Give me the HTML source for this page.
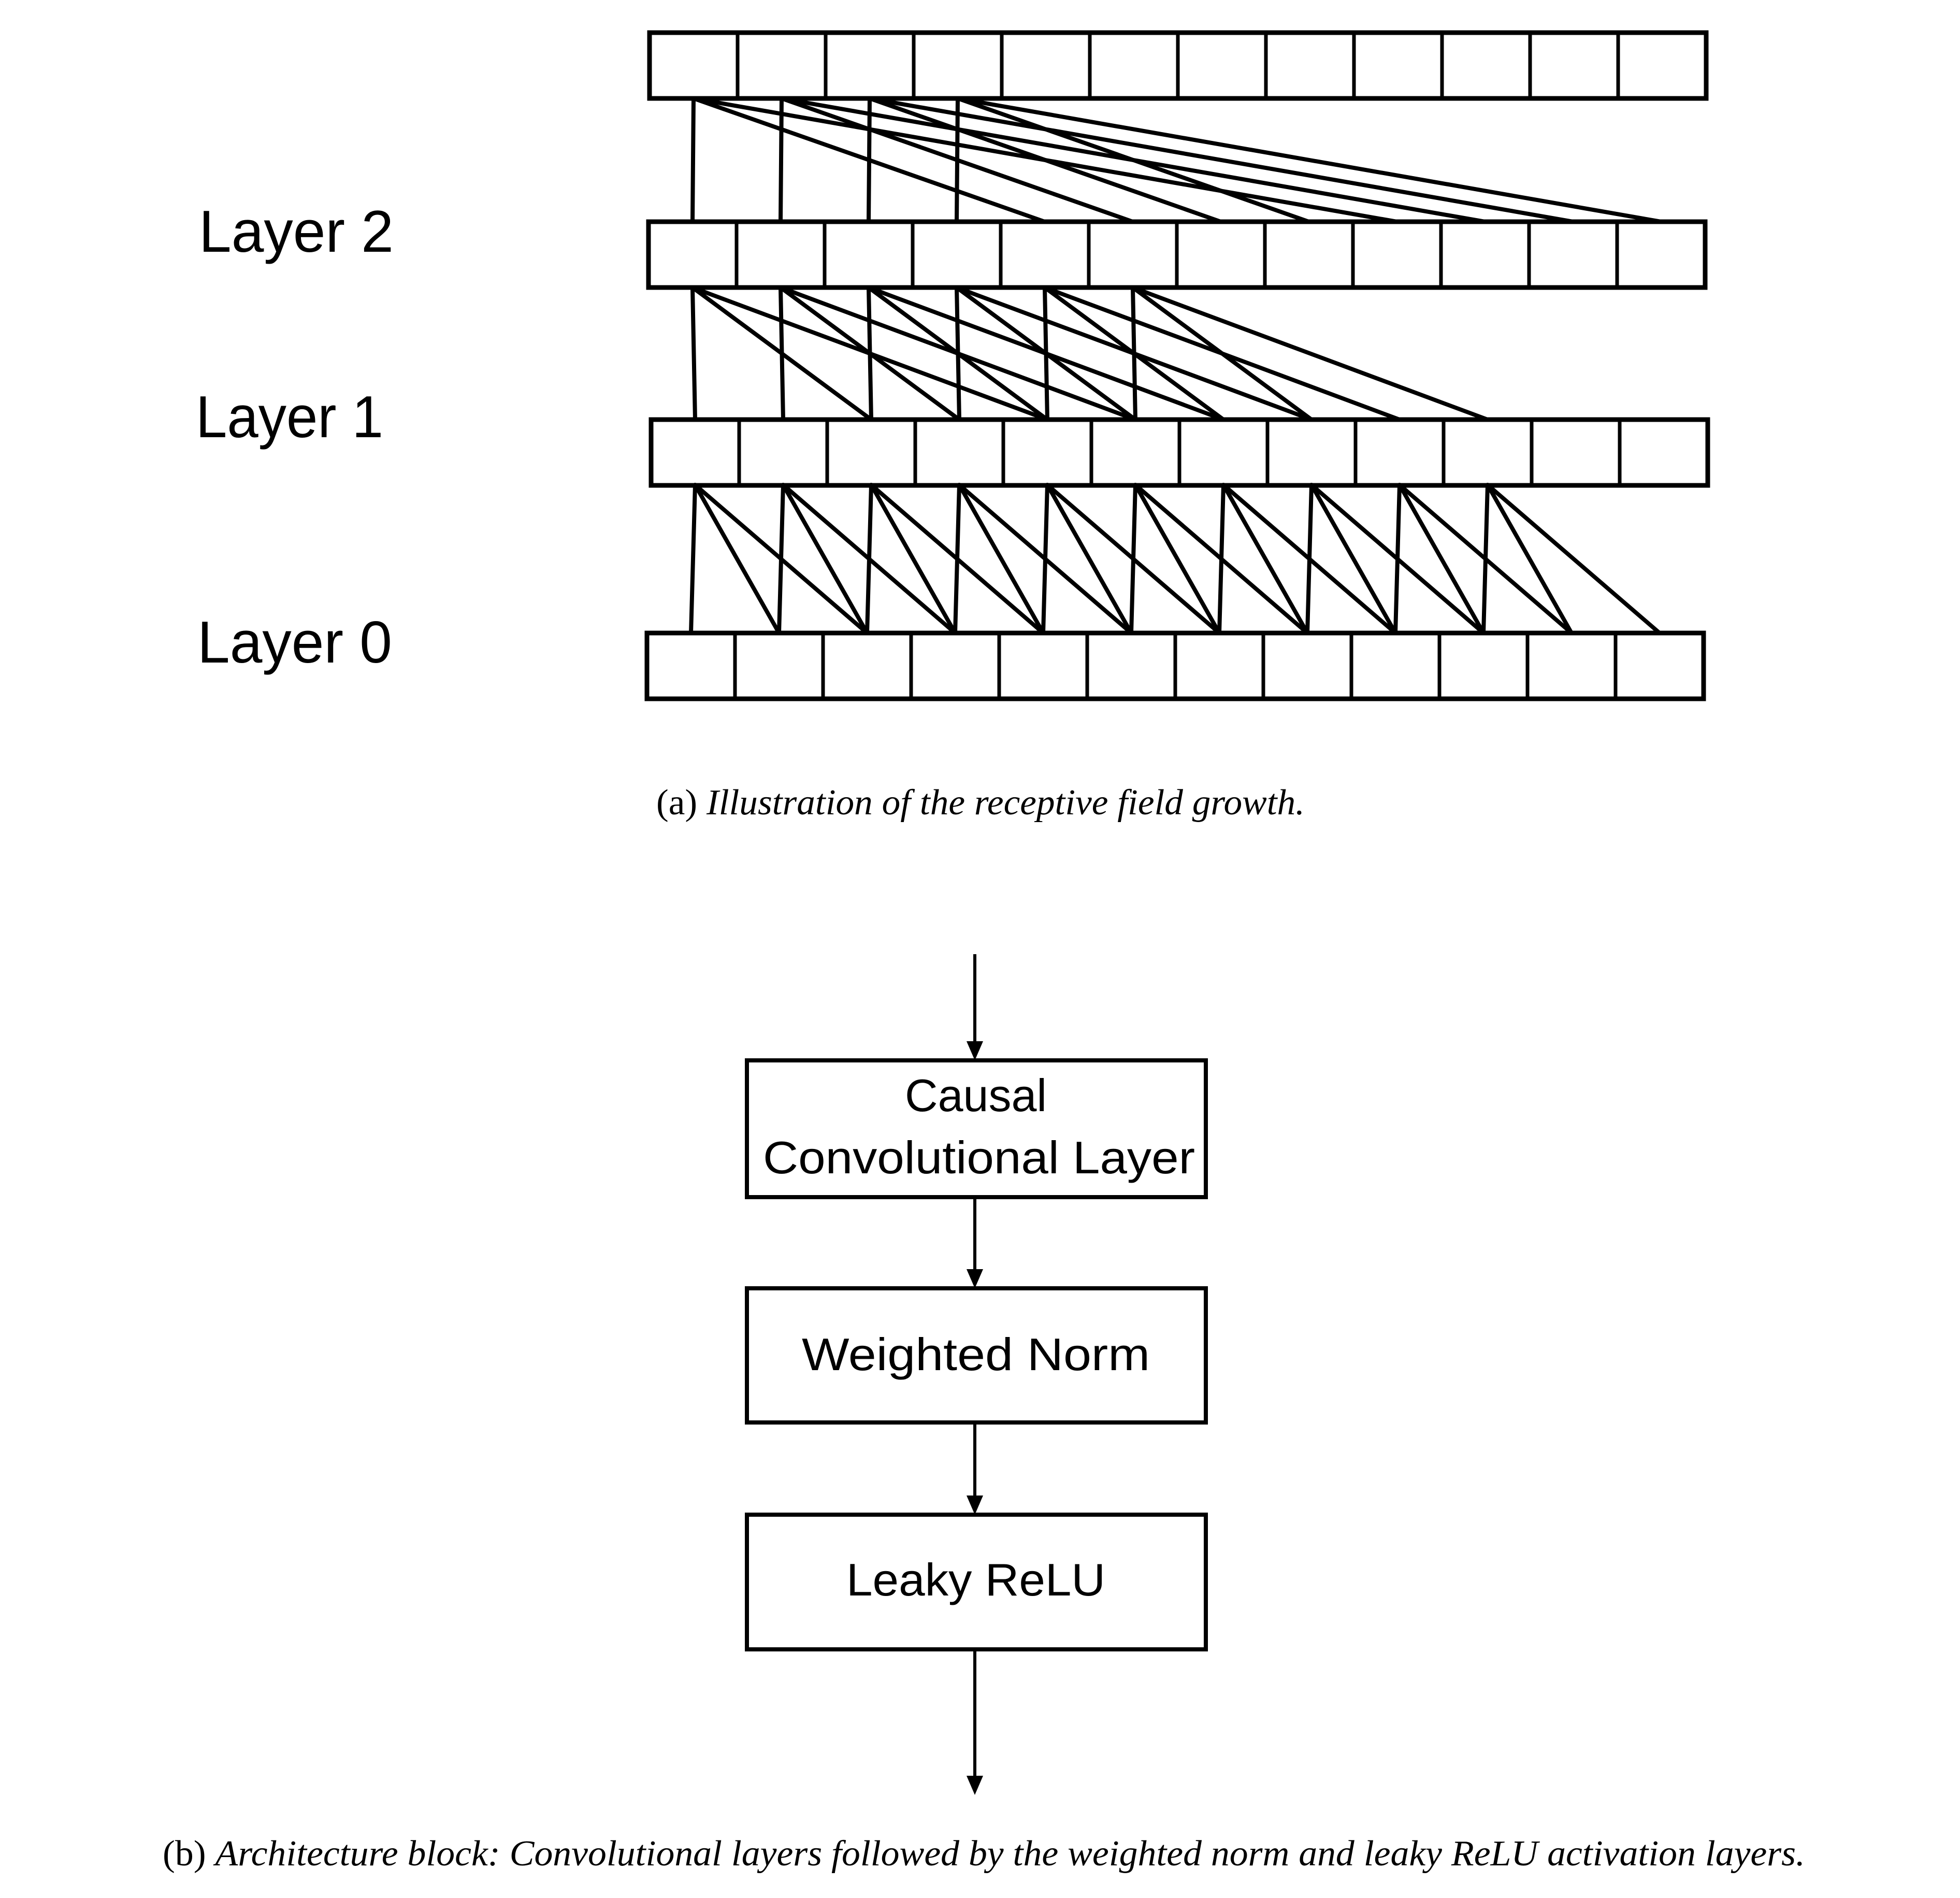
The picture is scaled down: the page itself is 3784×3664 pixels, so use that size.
<!DOCTYPE html>
<html><head><meta charset="utf-8"><style>html,body{margin:0;padding:0;background:#fff}svg{display:block}</style></head>
<body>
<svg width="3784" height="3664" viewBox="0 0 3784 3664" xmlns="http://www.w3.org/2000/svg">
<rect width="3784" height="3664" fill="#fff"/>
<defs>
<g id="row" fill="none" stroke="#000" stroke-width="9">
<rect x="0" y="0" width="2040" height="127"/>
<path d="M170 0V127M340 0V127M510 0V127M680 0V127M850 0V127M1020 0V127M1190 0V127M1360 0V127M1530 0V127M1700 0V127M1870 0V127" stroke-width="7"/>
</g>
</defs>
<use href="#row" x="1254" y="63"/>
<use href="#row" x="1252" y="428"/>
<use href="#row" x="1257" y="810"/>
<use href="#row" x="1249" y="1222"/>
<g stroke="#000" stroke-width="8" stroke-linecap="round">
<!-- top -> L2 -->
<line x1="1339" y1="190" x2="1337" y2="428"/><line x1="1339" y1="190" x2="2017" y2="428"/><line x1="1339" y1="190" x2="2697" y2="428"/>
<line x1="1509" y1="190" x2="1507" y2="428"/><line x1="1509" y1="190" x2="2187" y2="428"/><line x1="1509" y1="190" x2="2867" y2="428"/>
<line x1="1679" y1="190" x2="1677" y2="428"/><line x1="1679" y1="190" x2="2357" y2="428"/><line x1="1679" y1="190" x2="3037" y2="428"/>
<line x1="1849" y1="190" x2="1847" y2="428"/><line x1="1849" y1="190" x2="2527" y2="428"/><line x1="1849" y1="190" x2="3207" y2="428"/>
<!-- L2 -> L1 -->
<line x1="1337" y1="555" x2="1342" y2="810"/><line x1="1337" y1="555" x2="1682" y2="810"/><line x1="1337" y1="555" x2="2022" y2="810"/>
<line x1="1507" y1="555" x2="1512" y2="810"/><line x1="1507" y1="555" x2="1852" y2="810"/><line x1="1507" y1="555" x2="2192" y2="810"/>
<line x1="1677" y1="555" x2="1682" y2="810"/><line x1="1677" y1="555" x2="2022" y2="810"/><line x1="1677" y1="555" x2="2362" y2="810"/>
<line x1="1847" y1="555" x2="1852" y2="810"/><line x1="1847" y1="555" x2="2192" y2="810"/><line x1="1847" y1="555" x2="2532" y2="810"/>
<line x1="2017" y1="555" x2="2022" y2="810"/><line x1="2017" y1="555" x2="2362" y2="810"/><line x1="2017" y1="555" x2="2702" y2="810"/>
<line x1="2187" y1="555" x2="2192" y2="810"/><line x1="2187" y1="555" x2="2532" y2="810"/><line x1="2187" y1="555" x2="2872" y2="810"/>
<!-- L1 -> L0 -->
<line x1="1342" y1="936" x2="1334" y2="1222"/><line x1="1342" y1="936" x2="1504" y2="1222"/><line x1="1342" y1="936" x2="1674" y2="1222"/>
<line x1="1512" y1="936" x2="1504" y2="1222"/><line x1="1512" y1="936" x2="1674" y2="1222"/><line x1="1512" y1="936" x2="1844" y2="1222"/>
<line x1="1682" y1="936" x2="1674" y2="1222"/><line x1="1682" y1="936" x2="1844" y2="1222"/><line x1="1682" y1="936" x2="2014" y2="1222"/>
<line x1="1852" y1="936" x2="1844" y2="1222"/><line x1="1852" y1="936" x2="2014" y2="1222"/><line x1="1852" y1="936" x2="2184" y2="1222"/>
<line x1="2022" y1="936" x2="2014" y2="1222"/><line x1="2022" y1="936" x2="2184" y2="1222"/><line x1="2022" y1="936" x2="2354" y2="1222"/>
<line x1="2192" y1="936" x2="2184" y2="1222"/><line x1="2192" y1="936" x2="2354" y2="1222"/><line x1="2192" y1="936" x2="2524" y2="1222"/>
<line x1="2362" y1="936" x2="2354" y2="1222"/><line x1="2362" y1="936" x2="2524" y2="1222"/><line x1="2362" y1="936" x2="2694" y2="1222"/>
<line x1="2532" y1="936" x2="2524" y2="1222"/><line x1="2532" y1="936" x2="2694" y2="1222"/><line x1="2532" y1="936" x2="2864" y2="1222"/>
<line x1="2702" y1="936" x2="2694" y2="1222"/><line x1="2702" y1="936" x2="2864" y2="1222"/><line x1="2702" y1="936" x2="3034" y2="1222"/>
<line x1="2872" y1="936" x2="2864" y2="1222"/><line x1="2872" y1="936" x2="3034" y2="1222"/><line x1="2872" y1="936" x2="3204" y2="1222"/>
</g>
<g font-family="Liberation Sans, sans-serif" font-size="114" fill="#000">
<text x="384" y="486" textLength="376" lengthAdjust="spacingAndGlyphs">Layer 2</text>
<text x="378" y="844" textLength="362" lengthAdjust="spacingAndGlyphs">Layer 1</text>
<text x="381" y="1279" textLength="376" lengthAdjust="spacingAndGlyphs">Layer 0</text>
</g>
<g font-family="Liberation Serif, serif" font-size="70" fill="#000">
<text x="1267" y="1572" textLength="1252" lengthAdjust="spacingAndGlyphs"><tspan font-style="normal">(a) </tspan><tspan font-style="italic">Illustration of the receptive field growth.</tspan></text>
<text x="314" y="3601" textLength="3171" lengthAdjust="spacingAndGlyphs"><tspan>(b) </tspan><tspan font-style="italic">Architecture block:  Convolutional layers followed by the weighted norm and leaky ReLU activation layers.</tspan></text>
</g>
<!-- flowchart -->
<g fill="none" stroke="#000" stroke-width="8">
<rect x="1442" y="2047" width="886" height="264"/>
<rect x="1442" y="2487" width="886" height="259"/>
<rect x="1442" y="2924" width="886" height="260"/>
<path d="M1882 1842V2012M1882 2311V2452M1882 2746V2889M1882 3184V3430" stroke-width="6"/>
</g>
<g fill="#000">
<path d="M1866 2010h32l-16 37z"/>
<path d="M1866 2450h32l-16 37z"/>
<path d="M1866 2887h32l-16 37z"/>
<path d="M1866 3428h32l-16 37z"/>
</g>
<g font-family="Liberation Sans, sans-serif" font-size="88" fill="#000" text-anchor="middle">
<text x="1884" y="2145">Causal</text>
<text x="1890" y="2265" textLength="834" lengthAdjust="spacingAndGlyphs">Convolutional Layer</text>
<text x="1884" y="2645" textLength="672" lengthAdjust="spacingAndGlyphs">Weighted Norm</text>
<text x="1884" y="3080" textLength="500" lengthAdjust="spacingAndGlyphs">Leaky ReLU</text>
</g>
</svg>
</body></html>
